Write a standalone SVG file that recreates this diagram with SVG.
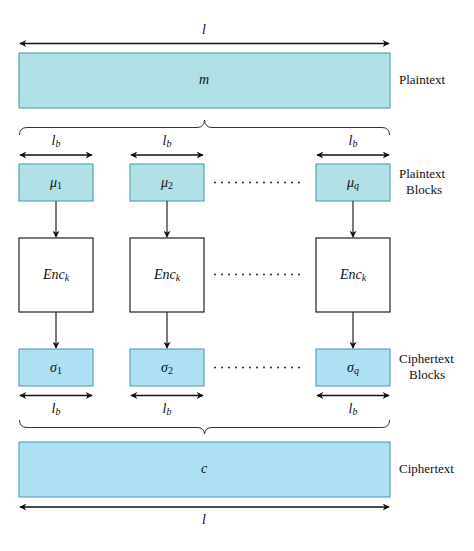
<svg xmlns="http://www.w3.org/2000/svg" width="474" height="551" viewBox="0 0 474 551">
<defs>
<marker id="ah" viewBox="0 0 10 10" refX="9" refY="5" markerWidth="8" markerHeight="7" orient="auto-start-reverse" markerUnits="userSpaceOnUse">
<path d="M0,0 L10,5 L0,10 L3,5 Z" fill="#111"/>
</marker>
<style>
.pt{fill:#b0e0e6;stroke:#3f9a9a;stroke-width:1}
.ct{fill:#ade0f3;stroke:#4a8fb5;stroke-width:1}
.enc{fill:#fff;stroke:#222;stroke-width:1.2}
.m{font-family:"Liberation Serif","DejaVu Serif",serif;font-style:italic;font-size:14px;fill:#111;text-anchor:middle}
.s{font-size:10px}
.lab{font-family:"Liberation Serif",serif;font-size:13px;fill:#111}
.dim{stroke:#111;stroke-width:1.3;fill:none}
.arr{stroke:#222;stroke-width:1.2;fill:none}
.dots{stroke:#111;stroke-width:1.8;stroke-dasharray:0 7;stroke-linecap:round;fill:none}
.brace{stroke:#333;stroke-width:1;fill:none}
</style>
</defs>
<rect width="474" height="551" fill="#fff"/>

<g id="plaintext">
<rect class="pt" x="19" y="53" width="371" height="55"/>
<text class="m" x="204" y="84">m</text>
<text class="lab" x="399" y="84">Plaintext</text>
</g>

<g id="mu1"><rect class="pt" x="19" y="164" width="74" height="37"/><text class="m" x="56" y="187">μ<tspan class="s" dy="2" font-style="normal">1</tspan></text></g>
<g id="mu2"><rect class="pt" x="130" y="164" width="74" height="37"/><text class="m" x="167" y="187">μ<tspan class="s" dy="2" font-style="normal">2</tspan></text></g>
<g id="muq"><rect class="pt" x="316" y="164" width="74" height="37"/><text class="m" x="353" y="187">μ<tspan class="s" dy="2">q</tspan></text></g>
<g id="ptblocks-label"><text class="lab" x="399" y="178">Plaintext</text><text class="lab" x="406" y="194">Blocks</text></g>

<g id="enc1"><rect class="enc" x="19" y="238" width="74" height="74"/><text class="m" x="56" y="279">Enc<tspan class="s" dy="2">k</tspan></text></g>
<g id="enc2"><rect class="enc" x="130" y="238" width="74" height="74"/><text class="m" x="167" y="279">Enc<tspan class="s" dy="2">k</tspan></text></g>
<g id="encq"><rect class="enc" x="316" y="238" width="74" height="74"/><text class="m" x="353" y="279">Enc<tspan class="s" dy="2">k</tspan></text></g>

<g id="sigma1"><rect class="ct" x="19" y="349" width="74" height="37"/><text class="m" x="56" y="372">σ<tspan class="s" dy="2" font-style="normal">1</tspan></text></g>
<g id="sigma2"><rect class="ct" x="130" y="349" width="74" height="37"/><text class="m" x="167" y="372">σ<tspan class="s" dy="2" font-style="normal">2</tspan></text></g>
<g id="sigmaq"><rect class="ct" x="316" y="349" width="74" height="37"/><text class="m" x="353" y="372">σ<tspan class="s" dy="2">q</tspan></text></g>
<g id="ctblocks-label"><text class="lab" x="399" y="363">Ciphertext</text><text class="lab" x="409" y="379">Blocks</text></g>

<g id="ciphertext">
<rect class="ct" x="19" y="442" width="371" height="55"/>
<text class="m" x="204" y="473">c</text>
<text class="lab" x="399" y="473">Ciphertext</text>
</g>

<g id="connectors">
<line class="dim" x1="20" y1="43.5" x2="389" y2="43.5" marker-start="url(#ah)" marker-end="url(#ah)"/>
<text class="m" x="204" y="34">l</text>

<path class="brace" d="M19.5,135 Q19.5,127.5 27,127.5 L197,127.5 Q204,127.5 204.5,120 Q205,127.5 212,127.5 L382,127.5 Q389.5,127.5 389.5,135"/>

<line class="dim" x1="20" y1="155" x2="92" y2="155" marker-start="url(#ah)" marker-end="url(#ah)"/>
<line class="dim" x1="131" y1="155" x2="203" y2="155" marker-start="url(#ah)" marker-end="url(#ah)"/>
<line class="dim" x1="317" y1="155" x2="389" y2="155" marker-start="url(#ah)" marker-end="url(#ah)"/>
<text class="m" x="56" y="145">l<tspan class="s" dy="2">b</tspan></text>
<text class="m" x="167" y="145">l<tspan class="s" dy="2">b</tspan></text>
<text class="m" x="353" y="145">l<tspan class="s" dy="2">b</tspan></text>

<line class="dots" x1="215" y1="182.5" x2="306" y2="182.5"/>
<line class="dots" x1="215" y1="274.5" x2="306" y2="274.5"/>
<line class="dots" x1="215" y1="367.5" x2="306" y2="367.5"/>

<line class="arr" x1="56" y1="201" x2="56" y2="237" marker-end="url(#ah)"/>
<line class="arr" x1="167" y1="201" x2="167" y2="237" marker-end="url(#ah)"/>
<line class="arr" x1="353" y1="201" x2="353" y2="237" marker-end="url(#ah)"/>
<line class="arr" x1="56" y1="312" x2="56" y2="348" marker-end="url(#ah)"/>
<line class="arr" x1="167" y1="312" x2="167" y2="348" marker-end="url(#ah)"/>
<line class="arr" x1="353" y1="312" x2="353" y2="348" marker-end="url(#ah)"/>

<line class="dim" x1="20" y1="395.5" x2="92" y2="395.5" marker-start="url(#ah)" marker-end="url(#ah)"/>
<line class="dim" x1="131" y1="395.5" x2="203" y2="395.5" marker-start="url(#ah)" marker-end="url(#ah)"/>
<line class="dim" x1="317" y1="395.5" x2="389" y2="395.5" marker-start="url(#ah)" marker-end="url(#ah)"/>
<text class="m" x="56" y="413">l<tspan class="s" dy="2">b</tspan></text>
<text class="m" x="167" y="413">l<tspan class="s" dy="2">b</tspan></text>
<text class="m" x="353" y="413">l<tspan class="s" dy="2">b</tspan></text>

<path class="brace" d="M19.5,420 Q19.5,427.5 27,427.5 L197,427.5 Q204,427.5 204.5,434 Q205,427.5 212,427.5 L382,427.5 Q389.5,427.5 389.5,420"/>

<line class="dim" x1="20" y1="507" x2="389" y2="507" marker-start="url(#ah)" marker-end="url(#ah)"/>
<text class="m" x="204" y="524">l</text>
</g>
</svg>
